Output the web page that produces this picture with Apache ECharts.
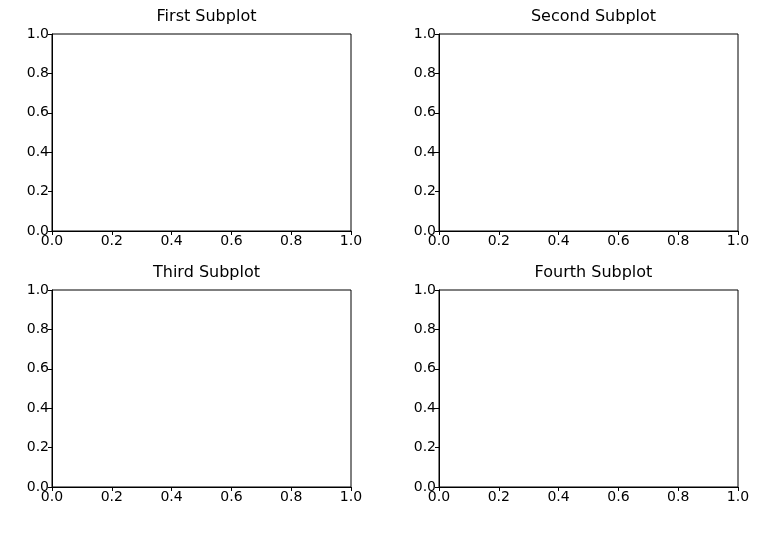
<!DOCTYPE html>
<html><head><meta charset="utf-8">
<script src="https://cdn.jsdelivr.net/npm/echarts@6/dist/echarts.min.js"></script>
<style>html,body{margin:0;background:#fff}#c{width:768px;height:539px}</style>
</head><body><div id="c"></div>
<script>
const titles = ["First Subplot","Second Subplot","Third Subplot","Fourth Subplot"];
const tickValues = [0,0.2,0.4,0.6,0.8,1.0];
const rects = [
  {left:52,top:34},{left:439,top:34},{left:52,top:290},{left:439,top:290}
];
const W=299,H=197;
const chart = echarts.init(document.getElementById('c'));
const font = {fontFamily:'DejaVu Sans',fontSize:14,color:'#000'};
const axisCommon = {
  type:'value',min:tickValues[0],max:tickValues[tickValues.length-1],interval:0.2,
  axisLine:{show:true,onZero:false,lineStyle:{color:'#000',width:1}},
  axisTick:{show:true,inside:false,length:4,lineStyle:{color:'#000'}},
  axisLabel:Object.assign({formatter:v=>v.toFixed(1),margin:3,showMinLabel:true,showMaxLabel:true},font),
  splitLine:{show:false}
};
chart.setOption({
  animation:false,
  title: titles.map((t,i)=>({text:t,left:rects[i].left+W/2,top:rects[i].top-30,textAlign:'center',
    textStyle:{fontFamily:'DejaVu Sans',fontSize:16,fontWeight:'normal',color:'#000'}})),
  grid: rects.map(r=>({left:r.left,top:r.top,width:W,height:H,show:true,borderColor:'#000',borderWidth:1,backgroundColor:'transparent'})),
  xAxis: rects.map((r,i)=>Object.assign({},axisCommon,{gridIndex:i})),
  yAxis: rects.map((r,i)=>Object.assign({},axisCommon,{gridIndex:i})),
  series: rects.map((r,i)=>({type:'scatter',xAxisIndex:i,yAxisIndex:i,data:[]}))
});
</script></body></html>
